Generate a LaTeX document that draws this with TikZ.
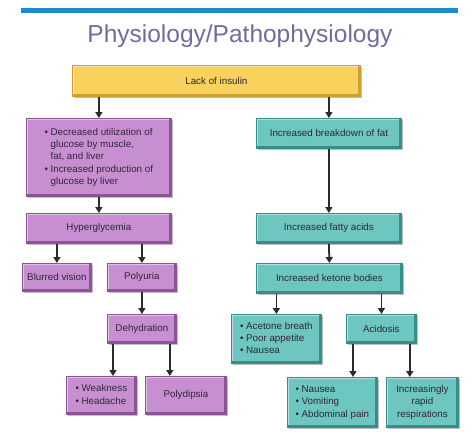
\documentclass[tikz,border=0pt]{standalone}
\usepackage{fontspec}
\setmainfont{Liberation Sans}
\usetikzlibrary{arrows.meta,shadows}
\definecolor{bluebar}{HTML}{1B8BC9}
\definecolor{titlec}{HTML}{6F6D9E}
\definecolor{txt}{HTML}{2E2836}
\definecolor{yfill}{HTML}{F8D25C}
\definecolor{ylight}{HTML}{FCE7A4}
\definecolor{ydark}{HTML}{D09E33}
\definecolor{pfill}{HTML}{C78FD1}
\definecolor{plight}{HTML}{E2C0E8}
\definecolor{pdark}{HTML}{8C5396}
\definecolor{tfill}{HTML}{6EC6C1}
\definecolor{tlight}{HTML}{ACE1DD}
\definecolor{tdark}{HTML}{368E89}
\definecolor{arrc}{HTML}{2B2B2B}
\tikzset{
  bevel/.style 2 args={path picture={
    \draw[#1,line width=4pt] (path picture bounding box.south west) -- (path picture bounding box.north west) -- (path picture bounding box.north east);
    \draw[#2,line width=4pt] (path picture bounding box.north east) -- (path picture bounding box.south east) -- (path picture bounding box.south west);}},
  boxbase/.style={anchor=north west, inner sep=0pt, align=center, text=txt,
    font=\fontsize{9.8}{12.3}\selectfont, line width=0.8pt,
    drop shadow={shadow xshift=1.8pt, shadow yshift=-1.8pt, fill=black, opacity=0.25}},
  ybox/.style={boxbase, fill=yfill, draw=ydark, bevel={ylight}{ydark}},
  pbox/.style={boxbase, fill=pfill, draw=pdark, bevel={plight}{pdark}},
  tbox/.style={boxbase, fill=tfill, draw=tdark, bevel={tlight}{tdark}},
  arr/.style={draw=arrc, line width=1.8pt, -{Triangle[length=6pt,width=7pt]}},
}
\newcommand{\bl}{\textbullet}
\begin{document}
\begin{tikzpicture}[x=1pt,y=-1pt]
\useasboundingbox (0,0) rectangle (474,445);
\fill[white] (0,0) rectangle (474,445);
\fill[bluebar] (21,8) rectangle (458,13);
\node[anchor=base, text=titlec, font=\fontsize{24.5}{28}\selectfont] (title) at (240,42) {Physiology/Pathophysiology};

\node[ybox, minimum width=288pt, minimum height=31pt] (lack) at (72,65) {Lack of insulin};

\node[pbox, minimum width=145pt, minimum height=78pt] (b1) at (26,118)
  {\begin{tabular}{@{}l@{\hspace{2.5pt}}l@{}}\bl & Decreased utilization of\\ & glucose by muscle,\\ & fat, and liver\\ \bl & Increased production of\\ & glucose by liver\end{tabular}};
\node[pbox, minimum width=145pt, minimum height=30pt] (hyper) at (26,213) {Hyperglycemia};
\node[pbox, minimum width=69pt, minimum height=28pt] (blur) at (22,263) {Blurred vision};
\node[pbox, minimum width=69pt, minimum height=28pt] (polyu) at (107,263) {Polyuria};
\node[pbox, minimum width=69pt, minimum height=29pt] (dehyd) at (107,314) {Dehydration};
\node[pbox, minimum width=70pt, minimum height=38pt] (weak) at (66,376)
  {\begin{tabular}{@{}l@{\hspace{2.5pt}}l@{}}\bl & Weakness\\ \bl & Headache\end{tabular}};
\node[pbox, minimum width=81pt, minimum height=38pt] (polyd) at (145,376) {Polydipsia};

\node[tbox, minimum width=145pt, minimum height=30pt] (fat) at (256,118) {Increased breakdown of fat};
\node[tbox, minimum width=145pt, minimum height=30pt] (fatty) at (256,213) {Increased fatty acids};
\node[tbox, minimum width=146pt, minimum height=30pt] (keto) at (256,263) {Increased ketone bodies};
\node[tbox, minimum width=90pt, minimum height=49pt] (acet) at (231,314)
  {\begin{tabular}{@{}l@{\hspace{2.5pt}}l@{}}\bl & Acetone breath\\ \bl & Poor appetite\\ \bl & Nausea\end{tabular}};
\node[tbox, minimum width=70pt, minimum height=29pt] (acid) at (346,314) {Acidosis};
\node[tbox, minimum width=90pt, minimum height=50pt] (naus) at (287,377)
  {\begin{tabular}{@{}l@{\hspace{2.5pt}}l@{}}\bl & Nausea\\ \bl & Vomiting\\ \bl & Abdominal pain\end{tabular}};
\node[tbox, minimum width=72pt, minimum height=50pt] (resp) at (386,377) {Increasingly\\rapid\\respirations};

\draw[arr] (b1.north |- lack.south) -- (b1.north);
\draw[arr] (b1.south) -- (hyper.north);
\draw[arr] (blur.north |- hyper.south) -- (blur.north);
\draw[arr] (polyu.north |- hyper.south) -- (polyu.north);
\draw[arr] (polyu.south) -- (dehyd.north);
\draw[arr] ([xshift=6pt]dehyd.south west) -- ([xshift=6pt]dehyd.south west |- weak.north);
\draw[arr] ([xshift=-7pt]dehyd.south east) -- ([xshift=-7pt]dehyd.south east |- polyd.north);

\draw[arr] (fat.north |- lack.south) -- (fat.north);
\draw[arr] (fat.south) -- (fatty.north);
\draw[arr] (fatty.south) -- (keto.north);
\draw[arr] (acet.north |- keto.south) -- (acet.north);
\draw[arr] (acid.north |- keto.south) -- (acid.north);
\draw[arr] ([xshift=7pt]acid.south west) -- ([xshift=7pt]acid.south west |- naus.north);
\draw[arr] ([xshift=-7pt]acid.south east) -- ([xshift=-7pt]acid.south east |- resp.north);
\end{tikzpicture}
\end{document}
